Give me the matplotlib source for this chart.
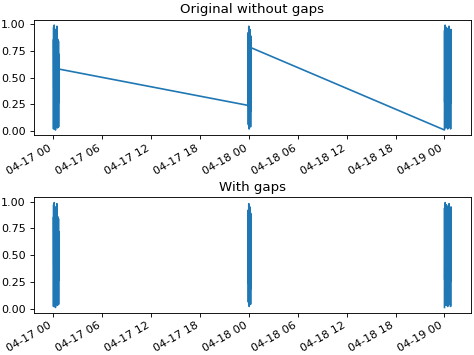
import matplotlib
matplotlib.use("Agg")
import matplotlib.pyplot as plt
import numpy as np
import pandas as pd

# three bursts of readings, one per minute
start1 = "2021-04-17 00:00"
start2 = "2021-04-17 23:54"
start3 = "2021-04-19 00:00"

vals1 = [0.85, 0.02, 0.97, 0.41, 0.66, 0.13, 0.99, 0.28, 0.74, 0.05, 0.91,
         0.37, 0.58, 0.19, 0.83, 0.01, 0.69, 0.46, 0.95, 0.10, 0.77, 0.33,
         0.88, 0.07, 0.62, 0.24, 0.98, 0.15, 0.71, 0.49, 0.03, 0.86, 0.36,
         0.81, 0.12, 0.67, 0.26, 0.84, 0.04, 0.72, 0.58]
vals2 = [0.24, 0.92, 0.06, 0.71, 0.35, 0.98, 0.14, 0.55, 0.02, 0.87, 0.43,
         0.67, 0.09, 0.95, 0.31, 0.79, 0.18, 0.61, 0.04, 0.89, 0.47, 0.78]
vals3 = [0.01, 0.94, 0.27, 0.73, 0.08, 0.99, 0.42, 0.63, 0.15, 0.88, 0.03,
         0.76, 0.34, 0.97, 0.21, 0.57, 0.05, 0.84, 0.46, 0.69, 0.11, 0.92,
         0.29, 0.81, 0.02, 0.65, 0.38, 0.96, 0.17, 0.74, 0.06, 0.89, 0.52,
         0.23, 0.98, 0.13, 0.68, 0.04, 0.86, 0.31, 0.77, 0.09, 0.93, 0.44,
         0.59, 0.02, 0.83, 0.26, 0.95, 0.71]

s1 = pd.Series(vals1, index=pd.date_range(start1, periods=len(vals1), freq="min"))
s2 = pd.Series(vals2, index=pd.date_range(start2, periods=len(vals2), freq="min"))
s3 = pd.Series(vals3, index=pd.date_range(start3, periods=len(vals3), freq="min"))
data = pd.concat([s1, s2, s3])

# same data with a NaN after each burst so the line breaks
gap1 = pd.Series([np.nan], index=[s1.index[-1] + pd.Timedelta(minutes=1)])
gap2 = pd.Series([np.nan], index=[s2.index[-1] + pd.Timedelta(minutes=1)])
gapped = pd.concat([s1, gap1, s2, gap2, s3])

fig, (ax1, ax2) = plt.subplots(2, 1, figsize=(5.925, 4.4375), dpi=80)

ax1.plot(data.index, data.values)
ax1.set_title("Original without gaps")

ax2.plot(gapped.index, gapped.values)
ax2.set_title("With gaps")

for ax in (ax1, ax2):
    for lab in ax.get_xticklabels():
        lab.set_rotation(30)
        lab.set_horizontalalignment("right")

fig.subplots_adjust(left=0.0707, right=0.9937, top=0.9437, bottom=0.1192, hspace=0.54)
fig.savefig("out.png", dpi=80)
